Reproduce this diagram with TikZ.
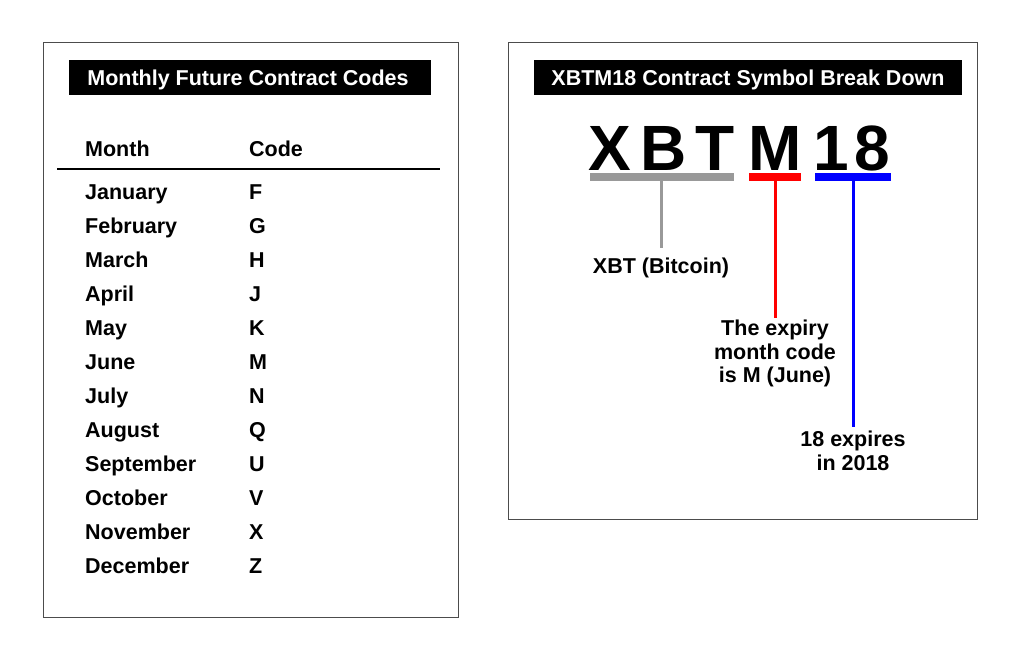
\documentclass[tikz,border=0pt]{standalone}
\usepackage{fontspec}
\setmainfont{Liberation Sans}
\begin{document}
\begin{tikzpicture}[x=1pt,y=-1pt,
  txt/.style={font=\fontsize{21.5}{24}\selectfont\bfseries,inner sep=0pt},
  lbl/.style={font=\fontsize{21.5}{23.5}\selectfont\bfseries,inner sep=0pt,align=center},
  big/.style={font=\fontsize{64}{64}\selectfont\bfseries,inner sep=0pt,anchor=base},
  frame/.style={draw=black!70,line width=0.8pt},
  bar/.style={fill=black,draw=none}]
\useasboundingbox (0,0) rectangle (1012,654);
% left panel
\draw[frame] (43,42) rectangle (458,617);
\fill[bar] (69,60) rectangle (431,95);
\node[txt,text=white,anchor=base] (lt) at (248,85) {Monthly Future Contract Codes};
\node[txt,anchor=base west] (hm) at (85,156) {Month};
\node[txt,anchor=base west] (hc) at (249,156) {Code};
\coordinate (la) at (57,169); \coordinate (lb) at (440,169);
\draw[line width=1.2pt] (la) -- (lb);
\foreach \m/\c [count=\i from 0] in {January/F,February/G,March/H,April/J,May/K,June/M,July/N,August/Q,September/U,October/V,November/X,December/Z}{
  \node[txt,anchor=base west] (m\i) at (85,199+34*\i) {\m};
  \node[txt,anchor=base west] (c\i) at (249,199+34*\i) {\c};
}
% right panel
\draw[frame] (508,42) rectangle (977,519);
\fill[bar] (534,60) rectangle (962,95);
\node[txt,text=white,anchor=base] (rt) at (748,85) {XBTM18 Contract Symbol Break Down};
\node[big] (X) at (610,170) {X};
\node[big] (B) at (664,170) {B};
\node[big] (T) at (715,170) {T};
\node[big] (M) at (775,170) {M};
\node[big] (one) at (831,170) {1};
\node[big] (eight) at (872,170) {8};
\fill[black!40] (590,173) rectangle (734,181);
\fill[red] (749,173) rectangle (801,181);
\fill[blue] (815,173) rectangle (891,181);
\coordinate (g0) at (661,181); \coordinate (r0) at (775,181); \coordinate (b0) at (853,181);
\node[lbl,anchor=base] (gl) at (661,273) {XBT (Bitcoin)};
\node[lbl,anchor=north] (rl) at (775,320) {The expiry\\month code\\is M (June)};
\node[lbl,anchor=north] (bl) at (853,431) {18 expires\\in 2018};
\draw[black!40,line width=3pt] (g0) -- (661,248);
\draw[red,line width=3pt] (r0) -- (775,318);
\draw[blue,line width=3pt] (b0) -- (853,427);
\end{tikzpicture}
\end{document}
